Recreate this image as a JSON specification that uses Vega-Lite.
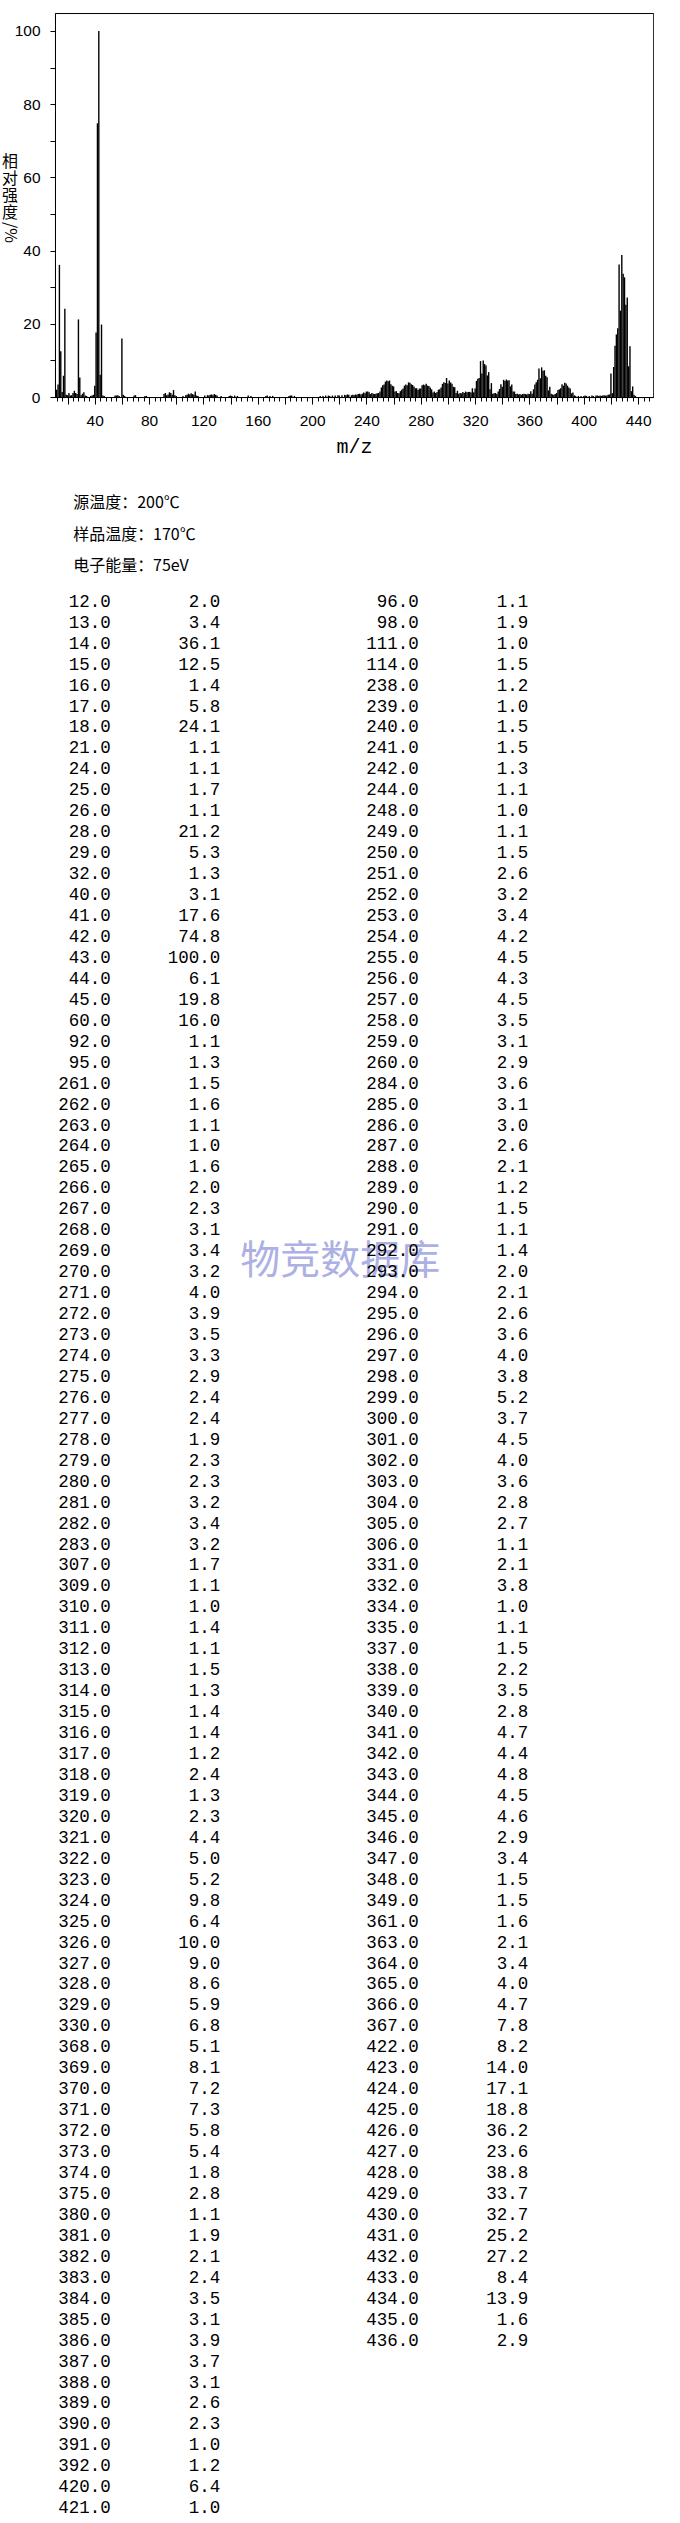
{
  "$schema": "https://vega.github.io/schema/vega-lite/v6.json",
  "background": "white",
  "padding": {"left": 0, "top": 12, "right": 0, "bottom": 0},
  "autosize": {"type": "pad"},
  "config": {"view": {"stroke": null}},
  "bounds": "flush",
  "spacing": 194.3,
  "datasets": {
    "peaks": [
      {"mz": 12, "intensity": 2.0}, {"mz": 13, "intensity": 3.4}, {"mz": 14, "intensity": 36.1}, {"mz": 15, "intensity": 12.5},
      {"mz": 16, "intensity": 1.4}, {"mz": 17, "intensity": 5.8}, {"mz": 18, "intensity": 24.1}, {"mz": 21, "intensity": 1.1},
      {"mz": 24, "intensity": 1.1}, {"mz": 25, "intensity": 1.7}, {"mz": 26, "intensity": 1.1}, {"mz": 28, "intensity": 21.2},
      {"mz": 29, "intensity": 5.3}, {"mz": 32, "intensity": 1.3}, {"mz": 40, "intensity": 3.1}, {"mz": 41, "intensity": 17.6},
      {"mz": 42, "intensity": 74.8}, {"mz": 43, "intensity": 100.0}, {"mz": 44, "intensity": 6.1}, {"mz": 45, "intensity": 19.8},
      {"mz": 60, "intensity": 16.0}, {"mz": 92, "intensity": 1.1}, {"mz": 95, "intensity": 1.3},
      {"mz": 96, "intensity": 1.1}, {"mz": 98, "intensity": 1.9}, {"mz": 111, "intensity": 1.0}, {"mz": 114, "intensity": 1.5},
      {"mz": 238, "intensity": 1.2}, {"mz": 239, "intensity": 1.0}, {"mz": 240, "intensity": 1.5}, {"mz": 241, "intensity": 1.5},
      {"mz": 242, "intensity": 1.3}, {"mz": 244, "intensity": 1.1}, {"mz": 248, "intensity": 1.0}, {"mz": 249, "intensity": 1.1},
      {"mz": 250, "intensity": 1.5}, {"mz": 251, "intensity": 2.6}, {"mz": 252, "intensity": 3.2}, {"mz": 253, "intensity": 3.4},
      {"mz": 254, "intensity": 4.2}, {"mz": 255, "intensity": 4.5}, {"mz": 256, "intensity": 4.3}, {"mz": 257, "intensity": 4.5},
      {"mz": 258, "intensity": 3.5}, {"mz": 259, "intensity": 3.1}, {"mz": 260, "intensity": 2.9},
      {"mz": 261, "intensity": 1.5}, {"mz": 262, "intensity": 1.6}, {"mz": 263, "intensity": 1.1}, {"mz": 264, "intensity": 1.0},
      {"mz": 265, "intensity": 1.6}, {"mz": 266, "intensity": 2.0}, {"mz": 267, "intensity": 2.3}, {"mz": 268, "intensity": 3.1},
      {"mz": 269, "intensity": 3.4}, {"mz": 270, "intensity": 3.2}, {"mz": 271, "intensity": 4.0}, {"mz": 272, "intensity": 3.9},
      {"mz": 273, "intensity": 3.5}, {"mz": 274, "intensity": 3.3}, {"mz": 275, "intensity": 2.9}, {"mz": 276, "intensity": 2.4},
      {"mz": 277, "intensity": 2.4}, {"mz": 278, "intensity": 1.9}, {"mz": 279, "intensity": 2.3}, {"mz": 280, "intensity": 2.3},
      {"mz": 281, "intensity": 3.2}, {"mz": 282, "intensity": 3.4}, {"mz": 283, "intensity": 3.2},
      {"mz": 284, "intensity": 3.6}, {"mz": 285, "intensity": 3.1}, {"mz": 286, "intensity": 3.0}, {"mz": 287, "intensity": 2.6},
      {"mz": 288, "intensity": 2.1}, {"mz": 289, "intensity": 1.2}, {"mz": 290, "intensity": 1.5}, {"mz": 291, "intensity": 1.1},
      {"mz": 292, "intensity": 1.4}, {"mz": 293, "intensity": 2.0}, {"mz": 294, "intensity": 2.1}, {"mz": 295, "intensity": 2.6},
      {"mz": 296, "intensity": 3.6}, {"mz": 297, "intensity": 4.0}, {"mz": 298, "intensity": 3.8}, {"mz": 299, "intensity": 5.2},
      {"mz": 300, "intensity": 3.7}, {"mz": 301, "intensity": 4.5}, {"mz": 302, "intensity": 4.0}, {"mz": 303, "intensity": 3.6},
      {"mz": 304, "intensity": 2.8}, {"mz": 305, "intensity": 2.7}, {"mz": 306, "intensity": 1.1},
      {"mz": 307, "intensity": 1.7}, {"mz": 309, "intensity": 1.1}, {"mz": 310, "intensity": 1.0}, {"mz": 311, "intensity": 1.4},
      {"mz": 312, "intensity": 1.1}, {"mz": 313, "intensity": 1.5}, {"mz": 314, "intensity": 1.3}, {"mz": 315, "intensity": 1.4},
      {"mz": 316, "intensity": 1.4}, {"mz": 317, "intensity": 1.2}, {"mz": 318, "intensity": 2.4}, {"mz": 319, "intensity": 1.3},
      {"mz": 320, "intensity": 2.3}, {"mz": 321, "intensity": 4.4}, {"mz": 322, "intensity": 5.0}, {"mz": 323, "intensity": 5.2},
      {"mz": 324, "intensity": 9.8}, {"mz": 325, "intensity": 6.4}, {"mz": 326, "intensity": 10.0}, {"mz": 327, "intensity": 9.0},
      {"mz": 328, "intensity": 8.6}, {"mz": 329, "intensity": 5.9}, {"mz": 330, "intensity": 6.8},
      {"mz": 331, "intensity": 2.1}, {"mz": 332, "intensity": 3.8}, {"mz": 334, "intensity": 1.0}, {"mz": 335, "intensity": 1.1},
      {"mz": 337, "intensity": 1.5}, {"mz": 338, "intensity": 2.2}, {"mz": 339, "intensity": 3.5}, {"mz": 340, "intensity": 2.8},
      {"mz": 341, "intensity": 4.7}, {"mz": 342, "intensity": 4.4}, {"mz": 343, "intensity": 4.8}, {"mz": 344, "intensity": 4.5},
      {"mz": 345, "intensity": 4.6}, {"mz": 346, "intensity": 2.9}, {"mz": 347, "intensity": 3.4}, {"mz": 348, "intensity": 1.5},
      {"mz": 349, "intensity": 1.5}, {"mz": 361, "intensity": 1.6}, {"mz": 363, "intensity": 2.1}, {"mz": 364, "intensity": 3.4},
      {"mz": 365, "intensity": 4.0}, {"mz": 366, "intensity": 4.7}, {"mz": 367, "intensity": 7.8},
      {"mz": 368, "intensity": 5.1}, {"mz": 369, "intensity": 8.1}, {"mz": 370, "intensity": 7.2}, {"mz": 371, "intensity": 7.3},
      {"mz": 372, "intensity": 5.8}, {"mz": 373, "intensity": 5.4}, {"mz": 374, "intensity": 1.8}, {"mz": 375, "intensity": 2.8},
      {"mz": 380, "intensity": 1.1}, {"mz": 381, "intensity": 1.9}, {"mz": 382, "intensity": 2.1}, {"mz": 383, "intensity": 2.4},
      {"mz": 384, "intensity": 3.5}, {"mz": 385, "intensity": 3.1}, {"mz": 386, "intensity": 3.9}, {"mz": 387, "intensity": 3.7},
      {"mz": 388, "intensity": 3.1}, {"mz": 389, "intensity": 2.6}, {"mz": 390, "intensity": 2.3}, {"mz": 391, "intensity": 1.0},
      {"mz": 392, "intensity": 1.2}, {"mz": 420, "intensity": 6.4}, {"mz": 421, "intensity": 1.0},
      {"mz": 422, "intensity": 8.2}, {"mz": 423, "intensity": 14.0}, {"mz": 424, "intensity": 17.1}, {"mz": 425, "intensity": 18.8},
      {"mz": 426, "intensity": 36.2}, {"mz": 427, "intensity": 23.6}, {"mz": 428, "intensity": 38.8}, {"mz": 429, "intensity": 33.7},
      {"mz": 430, "intensity": 32.7}, {"mz": 431, "intensity": 25.2}, {"mz": 432, "intensity": 27.2}, {"mz": 433, "intensity": 8.4},
      {"mz": 434, "intensity": 13.9}, {"mz": 435, "intensity": 1.6}, {"mz": 436, "intensity": 2.9}
    ],
    "minor": [
      {"mz": 19, "intensity": 0.6}, {"mz": 20, "intensity": 0.5}, {"mz": 22, "intensity": 0.4}, {"mz": 23, "intensity": 0.5},
      {"mz": 27, "intensity": 0.8}, {"mz": 30, "intensity": 0.5}, {"mz": 31, "intensity": 0.9}, {"mz": 33, "intensity": 0.4},
      {"mz": 34, "intensity": 0.3}, {"mz": 37, "intensity": 0.3}, {"mz": 38, "intensity": 0.4}, {"mz": 39, "intensity": 0.6},
      {"mz": 46, "intensity": 0.4}, {"mz": 47, "intensity": 0.3}, {"mz": 55, "intensity": 0.4}, {"mz": 56, "intensity": 0.4},
      {"mz": 57, "intensity": 0.5}, {"mz": 58, "intensity": 0.3}, {"mz": 61, "intensity": 0.6}, {"mz": 62, "intensity": 0.3},
      {"mz": 69, "intensity": 0.4}, {"mz": 70, "intensity": 0.5}, {"mz": 77, "intensity": 0.3}, {"mz": 78, "intensity": 0.3},
      {"mz": 91, "intensity": 0.8}, {"mz": 93, "intensity": 0.5}, {"mz": 94, "intensity": 0.7}, {"mz": 97, "intensity": 0.6},
      {"mz": 99, "intensity": 0.5}, {"mz": 100, "intensity": 0.3}, {"mz": 105, "intensity": 0.3}, {"mz": 107, "intensity": 0.5},
      {"mz": 108, "intensity": 0.6}, {"mz": 109, "intensity": 0.9}, {"mz": 110, "intensity": 0.7}, {"mz": 112, "intensity": 0.8},
      {"mz": 113, "intensity": 0.6}, {"mz": 115, "intensity": 0.4}, {"mz": 116, "intensity": 0.3}, {"mz": 121, "intensity": 0.4},
      {"mz": 123, "intensity": 0.5}, {"mz": 124, "intensity": 0.4}, {"mz": 125, "intensity": 0.6}, {"mz": 126, "intensity": 0.7},
      {"mz": 127, "intensity": 0.5}, {"mz": 128, "intensity": 0.8}, {"mz": 129, "intensity": 0.6}, {"mz": 130, "intensity": 0.4},
      {"mz": 133, "intensity": 0.3}, {"mz": 139, "intensity": 0.3}, {"mz": 140, "intensity": 0.4}, {"mz": 141, "intensity": 0.3},
      {"mz": 143, "intensity": 0.4}, {"mz": 145, "intensity": 0.3}, {"mz": 153, "intensity": 0.4}, {"mz": 155, "intensity": 0.3},
      {"mz": 166, "intensity": 0.3}, {"mz": 167, "intensity": 0.4}, {"mz": 169, "intensity": 0.3}, {"mz": 171, "intensity": 0.3},
      {"mz": 183, "intensity": 0.3}, {"mz": 184, "intensity": 0.4}, {"mz": 185, "intensity": 0.4}, {"mz": 187, "intensity": 0.3},
      {"mz": 206, "intensity": 0.3}, {"mz": 208, "intensity": 0.3}, {"mz": 210, "intensity": 0.4}, {"mz": 212, "intensity": 0.4},
      {"mz": 213, "intensity": 0.3}, {"mz": 215, "intensity": 0.4}, {"mz": 217, "intensity": 0.4}, {"mz": 219, "intensity": 0.5},
      {"mz": 220, "intensity": 0.4}, {"mz": 222, "intensity": 0.5}, {"mz": 224, "intensity": 0.6}, {"mz": 225, "intensity": 0.5},
      {"mz": 226, "intensity": 0.7}, {"mz": 227, "intensity": 0.6}, {"mz": 229, "intensity": 0.5}, {"mz": 230, "intensity": 0.6},
      {"mz": 231, "intensity": 0.5}, {"mz": 232, "intensity": 0.7}, {"mz": 233, "intensity": 0.6}, {"mz": 234, "intensity": 0.8},
      {"mz": 235, "intensity": 0.9}, {"mz": 236, "intensity": 0.7}, {"mz": 237, "intensity": 0.9}, {"mz": 243, "intensity": 0.8},
      {"mz": 245, "intensity": 0.9}, {"mz": 246, "intensity": 0.8}, {"mz": 247, "intensity": 0.9}, {"mz": 308, "intensity": 0.9},
      {"mz": 333, "intensity": 0.9}, {"mz": 336, "intensity": 0.8}, {"mz": 350, "intensity": 0.8}, {"mz": 351, "intensity": 0.9},
      {"mz": 352, "intensity": 0.7}, {"mz": 353, "intensity": 0.8}, {"mz": 354, "intensity": 0.6}, {"mz": 355, "intensity": 0.8},
      {"mz": 356, "intensity": 0.9}, {"mz": 357, "intensity": 0.8}, {"mz": 358, "intensity": 0.7}, {"mz": 359, "intensity": 0.9},
      {"mz": 360, "intensity": 0.8}, {"mz": 362, "intensity": 0.9}, {"mz": 376, "intensity": 0.9}, {"mz": 377, "intensity": 0.7},
      {"mz": 378, "intensity": 0.6}, {"mz": 379, "intensity": 0.8}, {"mz": 393, "intensity": 0.5}, {"mz": 394, "intensity": 0.3},
      {"mz": 396, "intensity": 0.3}, {"mz": 398, "intensity": 0.3}, {"mz": 400, "intensity": 0.3}, {"mz": 401, "intensity": 0.4},
      {"mz": 402, "intensity": 0.3}, {"mz": 404, "intensity": 0.3}, {"mz": 406, "intensity": 0.4}, {"mz": 407, "intensity": 0.3},
      {"mz": 409, "intensity": 0.4}, {"mz": 410, "intensity": 0.4}, {"mz": 411, "intensity": 0.3}, {"mz": 412, "intensity": 0.4},
      {"mz": 413, "intensity": 0.3}, {"mz": 414, "intensity": 0.4}, {"mz": 415, "intensity": 0.5}, {"mz": 416, "intensity": 0.4},
      {"mz": 417, "intensity": 0.4}, {"mz": 418, "intensity": 0.6}, {"mz": 419, "intensity": 0.7}, {"mz": 437, "intensity": 0.6},
      {"mz": 438, "intensity": 0.3}
    ],
    "watermark": [{"label": "物竞数据库"}]
  },
  "vconcat": [
    {
      "width": 598.2,
      "height": 384,
      "view": {"stroke": "black", "strokeWidth": 1},
      "resolve": {"axis": {"x": "independent", "y": "independent"}},
      "layer": [
        {
          "data": {"name": "peaks"},
          "mark": {"type": "rule", "color": "black", "strokeWidth": 1.4},
          "encoding": {
            "x": {
              "field": "mz", "type": "quantitative",
              "scale": {"domain": [10.75, 451.1], "nice": false, "zero": false},
              "axis": {
                "orient": "bottom",
                "values": [20, 40, 60, 80, 100, 120, 140, 160, 180, 200, 220, 240, 260, 280, 300, 320, 340, 360, 380, 400, 420, 440],
                "labelExpr": "datum.value % 40 == 0 ? datum.label : ''",
                "grid": false, "tickSize": 7, "tickColor": "black", "tickWidth": 1,
                "domainColor": "black", "domainWidth": 1,
                "labelColor": "black", "labelFont": "Liberation Sans", "labelFontSize": 15.5, "labelPadding": 9,
                "labelOverlap": false, "labelFlush": false,
                "title": "m/z", "titleFont": "Liberation Mono", "titleFontSize": 20, "titleFontWeight": "normal",
                "titleColor": "black", "titleY": 49, "titleBaseline": "middle"
              }
            },
            "y": {
              "field": "intensity", "type": "quantitative",
              "scale": {"domain": [0, 104.9], "nice": false, "zero": false},
              "axis": {
                "orient": "left",
                "values": [0, 10, 20, 30, 40, 50, 60, 70, 80, 90, 100],
                "labelExpr": "datum.value % 20 == 0 ? datum.label : ''",
                "grid": false, "tickSize": 5, "tickColor": "black",
                "domainColor": "black",
                "labelColor": "black", "labelFont": "Liberation Sans", "labelFontSize": 15.5, "labelPadding": 10,
                "labelOverlap": false, "labelFlush": false,
                "title": ["相", "对", "强", "度"], "titleAngle": 0, "titleAlign": "center", "titleBaseline": "top",
                "titleX": -45.5, "titleY": 140.5, "titleLineHeight": 17,
                "titleFont": "Noto Sans CJK SC", "titleFontSize": 16, "titleFontWeight": "normal", "titleColor": "black"
              }
            },
            "y2": {"datum": 0}
          }
        },
        {
          "data": {"name": "minor"},
          "mark": {"type": "rule", "color": "black", "strokeWidth": 1.4},
          "encoding": {
            "x": {
              "field": "mz", "type": "quantitative",
              "scale": {"domain": [10.75, 451.1], "nice": false, "zero": false},
              "axis": {
                "orient": "bottom",
                "values": [12,16,20,24,28,32,36,40,44,48,52,56,60,64,68,72,76,80,84,88,92,96,100,104,108,112,116,120,124,128,132,136,140,144,148,152,156,160,164,168,172,176,180,184,188,192,196,200,204,208,212,216,220,224,228,232,236,240,244,248,252,256,260,264,268,272,276,280,284,288,292,296,300,304,308,312,316,320,324,328,332,336,340,344,348,352,356,360,364,368,372,376,380,384,388,392,396,400,404,408,412,416,420,424,428,432,436,440,444,448],
                "labels": false, "domain": false, "grid": false, "title": null,
                "tickSize": 4, "tickColor": "black", "tickWidth": 1
              }
            },
            "y": {
              "field": "intensity", "type": "quantitative",
              "scale": {"domain": [0, 104.9], "nice": false, "zero": false},
              "axis": {
                "orient": "left", "labels": false, "ticks": false, "domain": false, "grid": false,
                "title": "/%", "titleAngle": 90, "titleAlign": "center", "titleBaseline": "middle",
                "titleX": -45.5, "titleY": 219,
                "titleFont": "Noto Sans CJK SC", "titleFontSize": 16, "titleFontWeight": "normal", "titleColor": "black"
              }
            },
            "y2": {"datum": 0}
          }
        }
      ]
    },
    {
      "width": 598.2,
      "height": 1927.4,
      "view": {"stroke": null},
      "title": {
        "text": ["源温度：200℃", "样品温度：170℃", "电子能量：75eV"],
        "anchor": "start", "frame": "group", "orient": "top", "baseline": "bottom",
        "offset": 1, "dx": 18.2, "lineHeight": 31.65,
        "font": "Noto Sans CJK SC", "fontSize": 16, "fontWeight": "normal", "color": "black"
      },
      "layer": [
        {
          "data": {"name": "watermark"},
          "mark": {"type": "text", "font": "Noto Sans CJK SC", "fontSize": 40, "color": "#adb0e4", "align": "center", "baseline": "middle"},
          "encoding": {
            "x": {"datum": 0.745, "type": "quantitative", "scale": {"domain": [0, 1], "range": [55.8, 363.8], "nice": false, "zero": false}, "axis": null},
            "y": {"datum": 31.5, "type": "quantitative", "scale": {"domain": [-0.5, 91.5], "range": [0, 1927.4], "nice": false, "zero": false}, "axis": null},
            "text": {"field": "label"}
          }
        },
        {
          "data": {"name": "peaks"},
          "transform": [
            {"window": [{"op": "row_number", "as": "n"}], "sort": [{"field": "mz", "order": "ascending"}]},
            {"calculate": "floor((datum.n - 1) / 46)", "as": "block"},
            {"calculate": "(datum.n - 1) % 46", "as": "k"},
            {"calculate": "datum.k < 23 ? 0 : 1", "as": "col"},
            {"calculate": "datum.block * 23 + datum.k % 23", "as": "row"}
          ],
          "mark": {"type": "text", "align": "right", "baseline": "middle", "font": "Liberation Mono", "fontSize": 17.5, "color": "black"},
          "encoding": {
            "x": {"field": "col", "type": "quantitative", "scale": {"domain": [0, 1], "range": [55.8, 363.8], "nice": false, "zero": false}, "axis": null},
            "y": {"field": "row", "type": "quantitative", "scale": {"domain": [-0.5, 91.5], "range": [0, 1927.4], "nice": false, "zero": false}, "axis": null},
            "text": {"field": "mz", "type": "quantitative", "format": ".1f"}
          }
        },
        {
          "data": {"name": "peaks"},
          "transform": [
            {"window": [{"op": "row_number", "as": "n"}], "sort": [{"field": "mz", "order": "ascending"}]},
            {"calculate": "floor((datum.n - 1) / 46)", "as": "block"},
            {"calculate": "(datum.n - 1) % 46", "as": "k"},
            {"calculate": "datum.k < 23 ? 0 : 1", "as": "col"},
            {"calculate": "datum.block * 23 + datum.k % 23", "as": "row"}
          ],
          "mark": {"type": "text", "align": "right", "baseline": "middle", "font": "Liberation Mono", "fontSize": 17.5, "color": "black", "dx": 109.5},
          "encoding": {
            "x": {"field": "col", "type": "quantitative", "scale": {"domain": [0, 1], "range": [55.8, 363.8], "nice": false, "zero": false}, "axis": null},
            "y": {"field": "row", "type": "quantitative", "scale": {"domain": [-0.5, 91.5], "range": [0, 1927.4], "nice": false, "zero": false}, "axis": null},
            "text": {"field": "intensity", "type": "quantitative", "format": ".1f"}
          }
        }
      ]
    }
  ]
}
